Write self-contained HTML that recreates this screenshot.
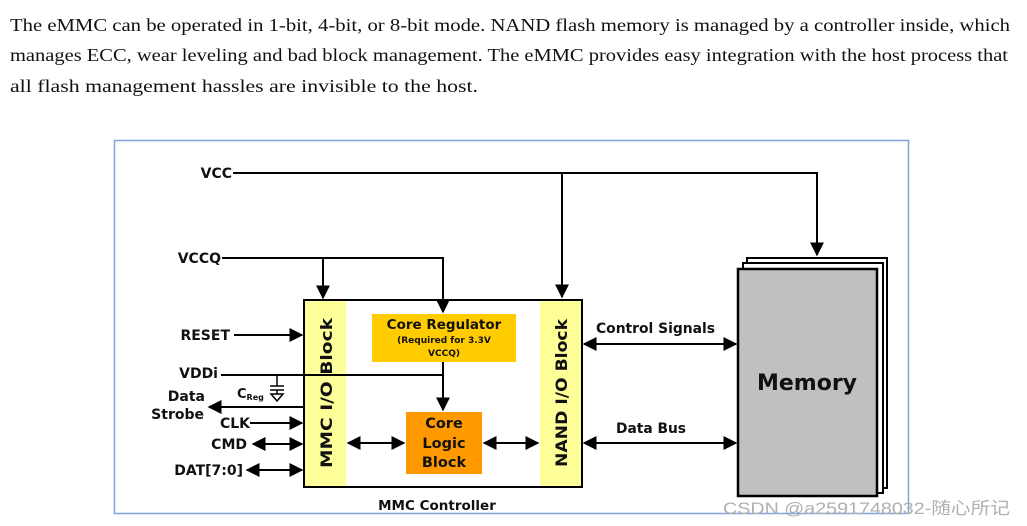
<!DOCTYPE html>
<html><head><meta charset="utf-8"><style>
html,body{margin:0;padding:0;background:#fff;}
svg{display:block;}
.s{font-family:"Liberation Serif",serif;font-size:18px;fill:#111;}
.b{font-family:"DejaVu Sans","Liberation Sans",sans-serif;font-weight:bold;fill:#111;}
</style></head><body>
<svg width="1027" height="526" viewBox="0 0 1027 526" xmlns="http://www.w3.org/2000/svg">
<defs>
<marker id="a" viewBox="0 0 10 10" refX="9" refY="5" markerWidth="7" markerHeight="7" orient="auto-start-reverse"><path d="M0,0 L10,5 L0,10 z" fill="#000"/></marker>
</defs>
<text class="s" x="10" y="31" textLength="1000" lengthAdjust="spacingAndGlyphs">The eMMC can be operated in 1-bit, 4-bit, or 8-bit mode. NAND flash memory is managed by a controller inside, which</text>
<text class="s" x="10" y="61" textLength="998" lengthAdjust="spacingAndGlyphs">manages ECC, wear leveling and bad block management. The eMMC provides easy integration with the host process that</text>
<text class="s" x="10" y="92" textLength="468" lengthAdjust="spacingAndGlyphs">all flash management hassles are invisible to the host.</text>

<rect x="114.5" y="140.5" width="794" height="373" fill="#fff" stroke="#7ea6dc" stroke-width="1.5"/>

<rect x="747" y="258" width="140" height="230" fill="#fff" stroke="#000" stroke-width="2"/>
<rect x="743" y="263" width="140" height="230" fill="#fff" stroke="#000" stroke-width="2"/>
<rect x="738" y="269" width="139" height="227" fill="#c0c0c0" stroke="#000" stroke-width="2.5"/>
<text class="b" x="807" y="390" font-size="22" text-anchor="middle">Memory</text>

<rect x="304" y="300" width="278" height="187" fill="#fff" stroke="#000" stroke-width="2"/>
<rect x="305" y="301" width="41" height="185" fill="#ffff99"/>
<rect x="540" y="301" width="41" height="185" fill="#ffff99"/>
<rect x="304" y="300" width="278" height="187" fill="none" stroke="#000" stroke-width="2"/>
<text class="b" font-size="16" transform="translate(332,393) rotate(-90)" text-anchor="middle" textLength="150" lengthAdjust="spacingAndGlyphs">MMC I/O Block</text>
<text class="b" font-size="16" transform="translate(567,393) rotate(-90)" text-anchor="middle" textLength="148" lengthAdjust="spacingAndGlyphs">NAND I/O Block</text>
<rect x="372" y="314" width="144" height="48" fill="#ffcc00"/>
<text class="b" x="444" y="329" font-size="13.5" text-anchor="middle">Core Regulator</text>
<text class="b" x="444" y="343" font-size="9" text-anchor="middle">(Required for 3.3V</text>
<text class="b" x="444" y="356" font-size="9" text-anchor="middle">VCCQ)</text>
<rect x="406" y="412" width="76" height="62" fill="#ff9900"/>
<text class="b" x="444" y="428" font-size="14.5" text-anchor="middle">Core</text>
<text class="b" x="444" y="448" font-size="14.5" text-anchor="middle">Logic</text>
<text class="b" x="444" y="467" font-size="14.5" text-anchor="middle">Block</text>
<text class="b" x="437" y="510" font-size="13.5" text-anchor="middle">MMC Controller</text>

<g stroke="#000" stroke-width="2" fill="none">
<path d="M233,173 H817 V255" marker-end="url(#a)"/>
<path d="M562,173 V297" marker-end="url(#a)"/>
<path d="M222,258 H443 V312" marker-end="url(#a)"/>
<path d="M323,258 V298" marker-end="url(#a)"/>
<path d="M221,375 H443"/>
<path d="M443,362 V410" marker-end="url(#a)"/>
<path d="M234,335 H302" marker-end="url(#a)"/>
<path d="M304,407 H209" marker-end="url(#a)"/>
<path d="M250,423 H302" marker-end="url(#a)"/>
<path d="M253,444 H302" marker-start="url(#a)" marker-end="url(#a)"/>
<path d="M247,470 H302" marker-start="url(#a)" marker-end="url(#a)"/>
<path d="M348,443 H404" marker-start="url(#a)" marker-end="url(#a)"/>
<path d="M484,443 H538" marker-start="url(#a)" marker-end="url(#a)"/>
<path d="M584,344 H736" marker-start="url(#a)" marker-end="url(#a)"/>
<path d="M584,443 H736" marker-start="url(#a)" marker-end="url(#a)"/>
<path d="M277,375 V386 M270,386 H284 M270,390 H284 M277,390 V394" stroke-width="1.5"/>
<path d="M271,394 H283 L277,401 Z" stroke-width="1.5"/>
</g>

<g class="b" font-size="14" text-anchor="end">
<text x="232" y="178">VCC</text>
<text x="221" y="263">VCCQ</text>
<text x="230" y="340">RESET</text>
<text x="218" y="378">VDDi</text>
<text x="205" y="401">Data</text>
<text x="204" y="419">Strobe</text>
<text x="250" y="428">CLK</text>
<text x="247" y="449">CMD</text>
<text x="243" y="475">DAT[7:0]</text>
</g>
<text class="b" x="237" y="398" font-size="13">C<tspan font-size="8" dy="2">Reg</tspan></text>
<text class="b" x="596" y="333" font-size="14" textLength="119" lengthAdjust="spacingAndGlyphs">Control Signals</text>
<text class="b" x="616" y="433" font-size="14" textLength="70" lengthAdjust="spacingAndGlyphs">Data Bus</text>

<text x="723" y="514" font-family="Liberation Sans,'Noto Sans CJK SC',sans-serif" font-size="17" fill="#b0b0b0" textLength="287" lengthAdjust="spacingAndGlyphs">CSDN @a2591748032-随心所记</text>
</svg>
</body></html>
